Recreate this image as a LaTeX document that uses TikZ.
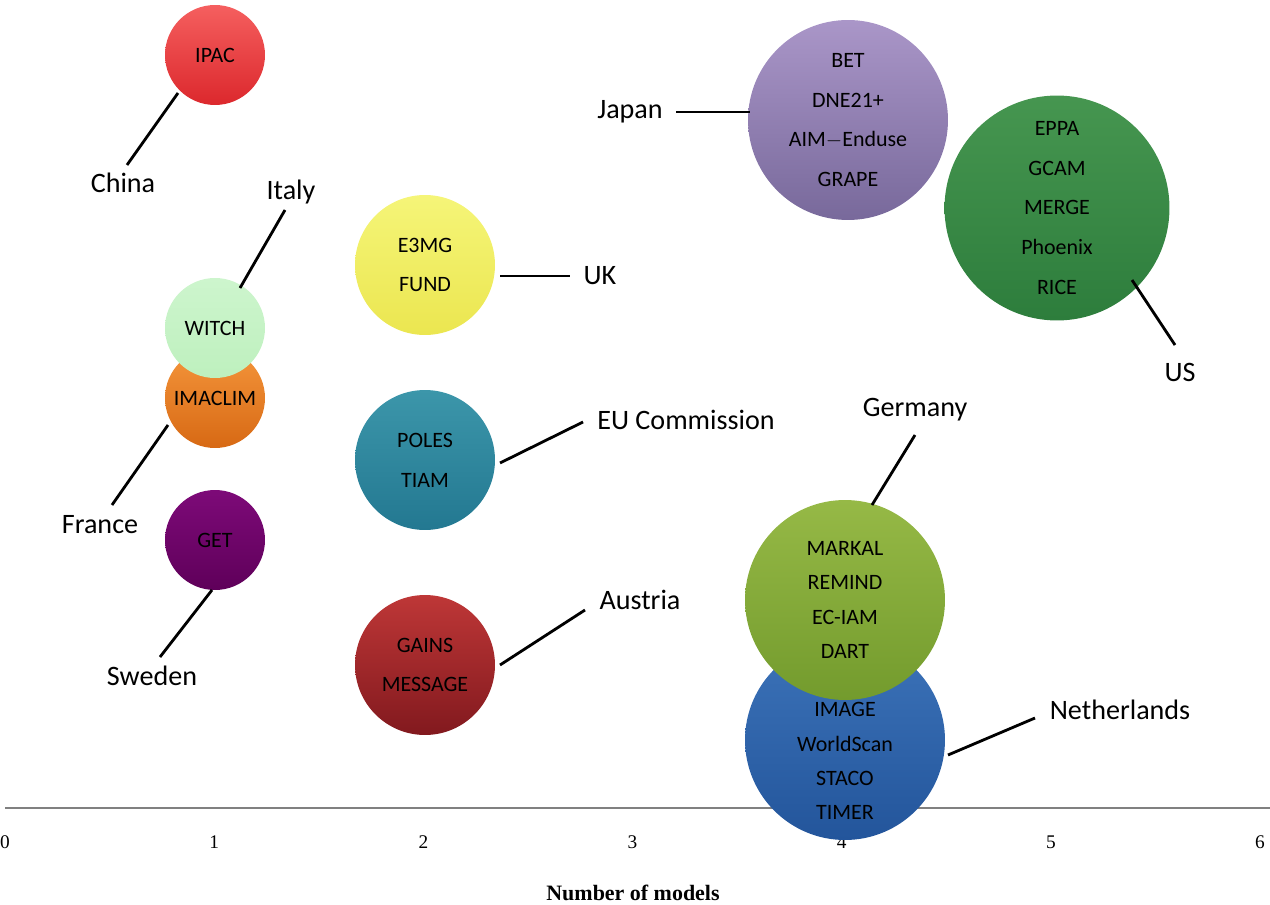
\documentclass[tikz,border=0pt]{standalone}
\usepackage{fontspec}
\setmainfont{Carlito}
\newfontfamily\axisfont{Liberation Serif}
\definecolor{ipacT}{RGB}{245,95,95}\definecolor{ipacB}{RGB}{220,40,45}
\definecolor{imaT}{RGB}{245,150,60}\definecolor{imaB}{RGB}{215,105,20}
\definecolor{witT}{RGB}{205,245,205}\definecolor{witB}{RGB}{190,240,190}
\definecolor{getT}{RGB}{125,10,120}\definecolor{getB}{RGB}{95,0,90}
\definecolor{e3T}{RGB}{245,245,120}\definecolor{e3B}{RGB}{235,230,80}
\definecolor{polT}{RGB}{60,150,170}\definecolor{polB}{RGB}{35,120,145}
\definecolor{gaiT}{RGB}{190,55,55}\definecolor{gaiB}{RGB}{130,25,30}
\definecolor{betT}{RGB}{170,150,200}\definecolor{betB}{RGB}{120,105,155}
\definecolor{eppT}{RGB}{70,150,80}\definecolor{eppB}{RGB}{45,125,60}
\definecolor{imgT}{RGB}{60,115,185}\definecolor{imgB}{RGB}{35,85,155}
\definecolor{marT}{RGB}{150,185,70}\definecolor{marB}{RGB}{115,155,45}
\begin{document}
\begin{tikzpicture}[x=0.02cm,y=-0.02cm,
  bubble/.style={circle, inner sep=0pt, align=center, font=\fontsize{12.5}{22.7}\selectfont},
  country/.style={font=\fontsize{16}{18}\selectfont},
  tie/.style={line width=1.6pt}]
		\useasboundingbox (0,0) rectangle (1270,905);
		
		% axis
		\draw[gray, line width=0.8pt] (5,808) -- (1270,808);
		\foreach \k in {0,...,6}
		  \node[font=\axisfont\fontsize{11}{12}\selectfont] (t\k) at (5+210*\k-\k/6*5,842) {\k};
		\node[font=\axisfont\bfseries\fontsize{12.5}{13}\selectfont] (xlab) at (633,893) {Number of models};
		
		% bubbles
		\node[bubble, minimum size=2cm, top color=ipacT, bottom color=ipacB] (ipac) at (215,55) {IPAC};
		\node[bubble, minimum size=2cm, top color=imaT, bottom color=imaB] (imaclim) at (215,398) {IMACLIM};
		\node[bubble, minimum size=2cm, top color=witT, bottom color=witB] (witch) at (215,328) {WITCH};
		\node[bubble, minimum size=2cm, top color=getT, bottom color=getB] (get) at (215,540) {GET};
		\node[bubble, minimum size=2.8cm, top color=e3T, bottom color=e3B] (e3mg) at (425,265) {E3MG\\FUND};
		\node[bubble, minimum size=2.8cm, top color=polT, bottom color=polB] (poles) at (425,460) {POLES\\TIAM};
		\node[bubble, minimum size=2.8cm, top color=gaiT, bottom color=gaiB] (gains) at (425,665) {GAINS\\MESSAGE};
		\node[bubble, minimum size=4cm, top color=betT, bottom color=betB] (bet) at (848,120) {BET\\DNE21+\\AIM$-$Enduse\\GRAPE};
		\node[bubble, minimum size=4.5cm, top color=eppT, bottom color=eppB] (eppa) at (1057,208) {EPPA\\GCAM\\MERGE\\Phoenix\\RICE};
		\node[bubble, minimum size=4cm, top color=imgT, bottom color=imgB] (image) at (845,740) {};
		\node[bubble, minimum size=4cm, font=\fontsize{12.5}{19.5}\selectfont, top color=marT, bottom color=marB] (markal) at (845,600) {MARKAL\\REMIND\\EC-IAM\\DART};
		\node[align=center, font=\fontsize{12.5}{19.5}\selectfont] (imagetxt) at (845,761) {IMAGE\\WorldScan\\STACO\\TIMER};
		
		% countries
		\node[country] (china) at (123,183) {China};
		\node[country] (italy) at (291,192) {Italy};
		\node[country] (uk) at (600,276) {UK};
		\node[country] (france) at (100,525) {France};
		\node[country] (eu) at (686,420) {EU Commission};
		\node[country] (sweden) at (152,676) {Sweden};
		\node[country] (austria) at (640,600) {Austria};
		\node[country] (japan) at (630,112) {Japan};
		\node[country] (us) at (1180,372) {US};
		\node[country] (germany) at (915,410) {Germany};
		\node[country] (nl) at (1120,710) {Netherlands};
		
		\draw[tie] (127,165) -- (178,93);
		\draw[tie] (240,288) -- (285,210);
		\draw[tie] (500,276) -- (570,276);
		\draw[tie] (112,505) -- (168,425);
		\draw[tie] (500,463) -- (583,422);
		\draw[tie] (160,657) -- (212,590);
		\draw[tie] (500,665) -- (585,610);
		\draw[tie] (676,112) -- (750,112);
		\draw[tie] (1132,280) -- (1175,345);
		\draw[tie] (872,505) -- (915,435);
		\draw[tie] (948,755) -- (1035,718);
		\end{tikzpicture}
\end{document}
